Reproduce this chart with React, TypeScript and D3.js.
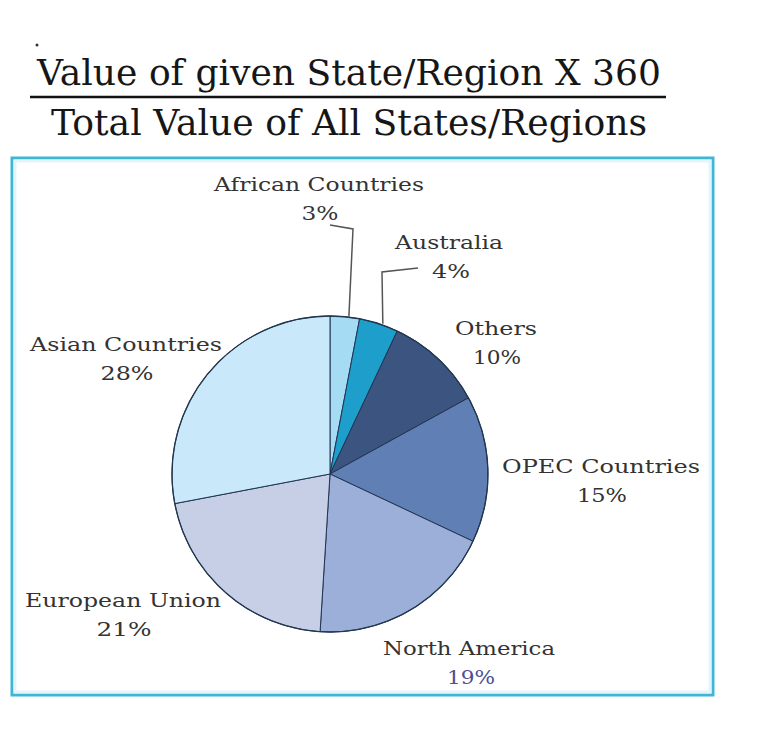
import React from "react";
import * as d3 from "d3";

const categories = [
  "African Countries",
  "Australia",
  "Others",
  "OPEC Countries",
  "North America",
  "European Union",
  "Asian Countries",
];
const shares = [3, 4, 10, 15, 19, 21, 28];
const percentLabels = ["3%", "4%", "10%", "15%", "19%", "21%", "28%"];
const sliceColors = ["#a6dbf4", "#1d9ecb", "#3b5580", "#5f7fb5", "#9cafd8", "#c7cfe7", "#c9e8f9"];

const titleTop = "Value of given State/Region X 360";
const titleBottom = "Total Value of All States/Regions";

// label layout: [name center x, name baseline y, name width, pct center x, pct baseline y, pct width]
const labelLayout: [number, number, number, number, number, number][] = [
  [319, 191, 210, 320, 220, 37],
  [449, 249, 108, 451, 278, 38],
  [496, 335, 82, 497, 364, 48],
  [601, 473, 198, 602, 502, 50],
  [469, 655, 172, 471, 684, 48],
  [123, 607, 196, 124, 636, 55],
  [126, 351, 192, 127, 380, 53],
];
// leader lines for the small slices: [start x, start y, elbow x, elbow y]
const leaders: Record<number, [number, number, number, number]> = {
  0: [330, 225, 353, 229],
  1: [418, 268, 382, 272],
};

const W = 768;
const H = 749;
const cx = 330;
const cy = 474;
const R = 158;
const FONT = "'DejaVu Serif', 'Liberation Serif', serif";

export default function App() {
  const pie = d3.pie<number>().sort(null).value((d) => d)(shares);
  const arc = d3.arc<d3.PieArcDatum<number>>().innerRadius(0).outerRadius(R);

  return (
    <svg
      width={W}
      height={H}
      viewBox={`0 0 ${W} ${H}`}
      style={{ position: "absolute", left: 0, top: 0, background: "#fff" }}
    >
      <rect x={0} y={0} width={W} height={H} fill="#fff" />
      <circle cx={37} cy={45} r={1.5} fill="#333" />
      <text
        x={349}
        y={85}
        textAnchor="middle"
        fontFamily={FONT}
        fontSize={35}
        fill="#161616"
        textLength={624}
        lengthAdjust="spacingAndGlyphs"
      >
        {titleTop}
      </text>
      <line x1={30} x2={666} y1={97} y2={97} stroke="#111" strokeWidth={2.5} />
      <text
        x={349}
        y={135}
        textAnchor="middle"
        fontFamily={FONT}
        fontSize={35}
        fill="#161616"
        textLength={596}
        lengthAdjust="spacingAndGlyphs"
      >
        {titleBottom}
      </text>

      <rect x={12} y={158} width={701} height={537} fill="none" stroke="#3fb6d6" strokeWidth={3} />
      <rect x={15} y={161} width={695} height={531} fill="none" stroke="#e3f5fa" strokeWidth={3} />

      <g transform={`translate(${cx},${cy})`}>
        {pie.map((p, i) => (
          <path key={i} d={arc(p) || ""} fill={sliceColors[i]} stroke="#1f3552" strokeWidth={1} />
        ))}
        <circle r={R} fill="none" stroke="#23374f" strokeWidth={1.3} />
      </g>

      {pie.map((p, i) => {
        const ld = leaders[i];
        if (!ld) return null;
        const mid = (p.startAngle + p.endAngle) / 2;
        const ex = cx + R * Math.sin(mid);
        const ey = cy - R * Math.cos(mid);
        return (
          <polyline
            key={"l" + i}
            points={`${ld[0]},${ld[1]} ${ld[2]},${ld[3]} ${ex + 4},${ey}`}
            fill="none"
            stroke="#555"
            strokeWidth={1.5}
          />
        );
      })}

      {categories.map((c, i) => {
        const [nx, ny, nw, px, py, pw] = labelLayout[i];
        return (
          <g key={"t" + i} fontFamily={FONT} fontSize={19} fill="#333">
            <text x={nx} y={ny} textAnchor="middle" textLength={nw} lengthAdjust="spacingAndGlyphs">
              {c}
            </text>
            <text
              x={px}
              y={py}
              textAnchor="middle"
              textLength={pw}
              lengthAdjust="spacingAndGlyphs"
              fill={i === 4 ? "#4b4f96" : "#333"}
            >
              {percentLabels[i]}
            </text>
          </g>
        );
      })}
    </svg>
  );
}
